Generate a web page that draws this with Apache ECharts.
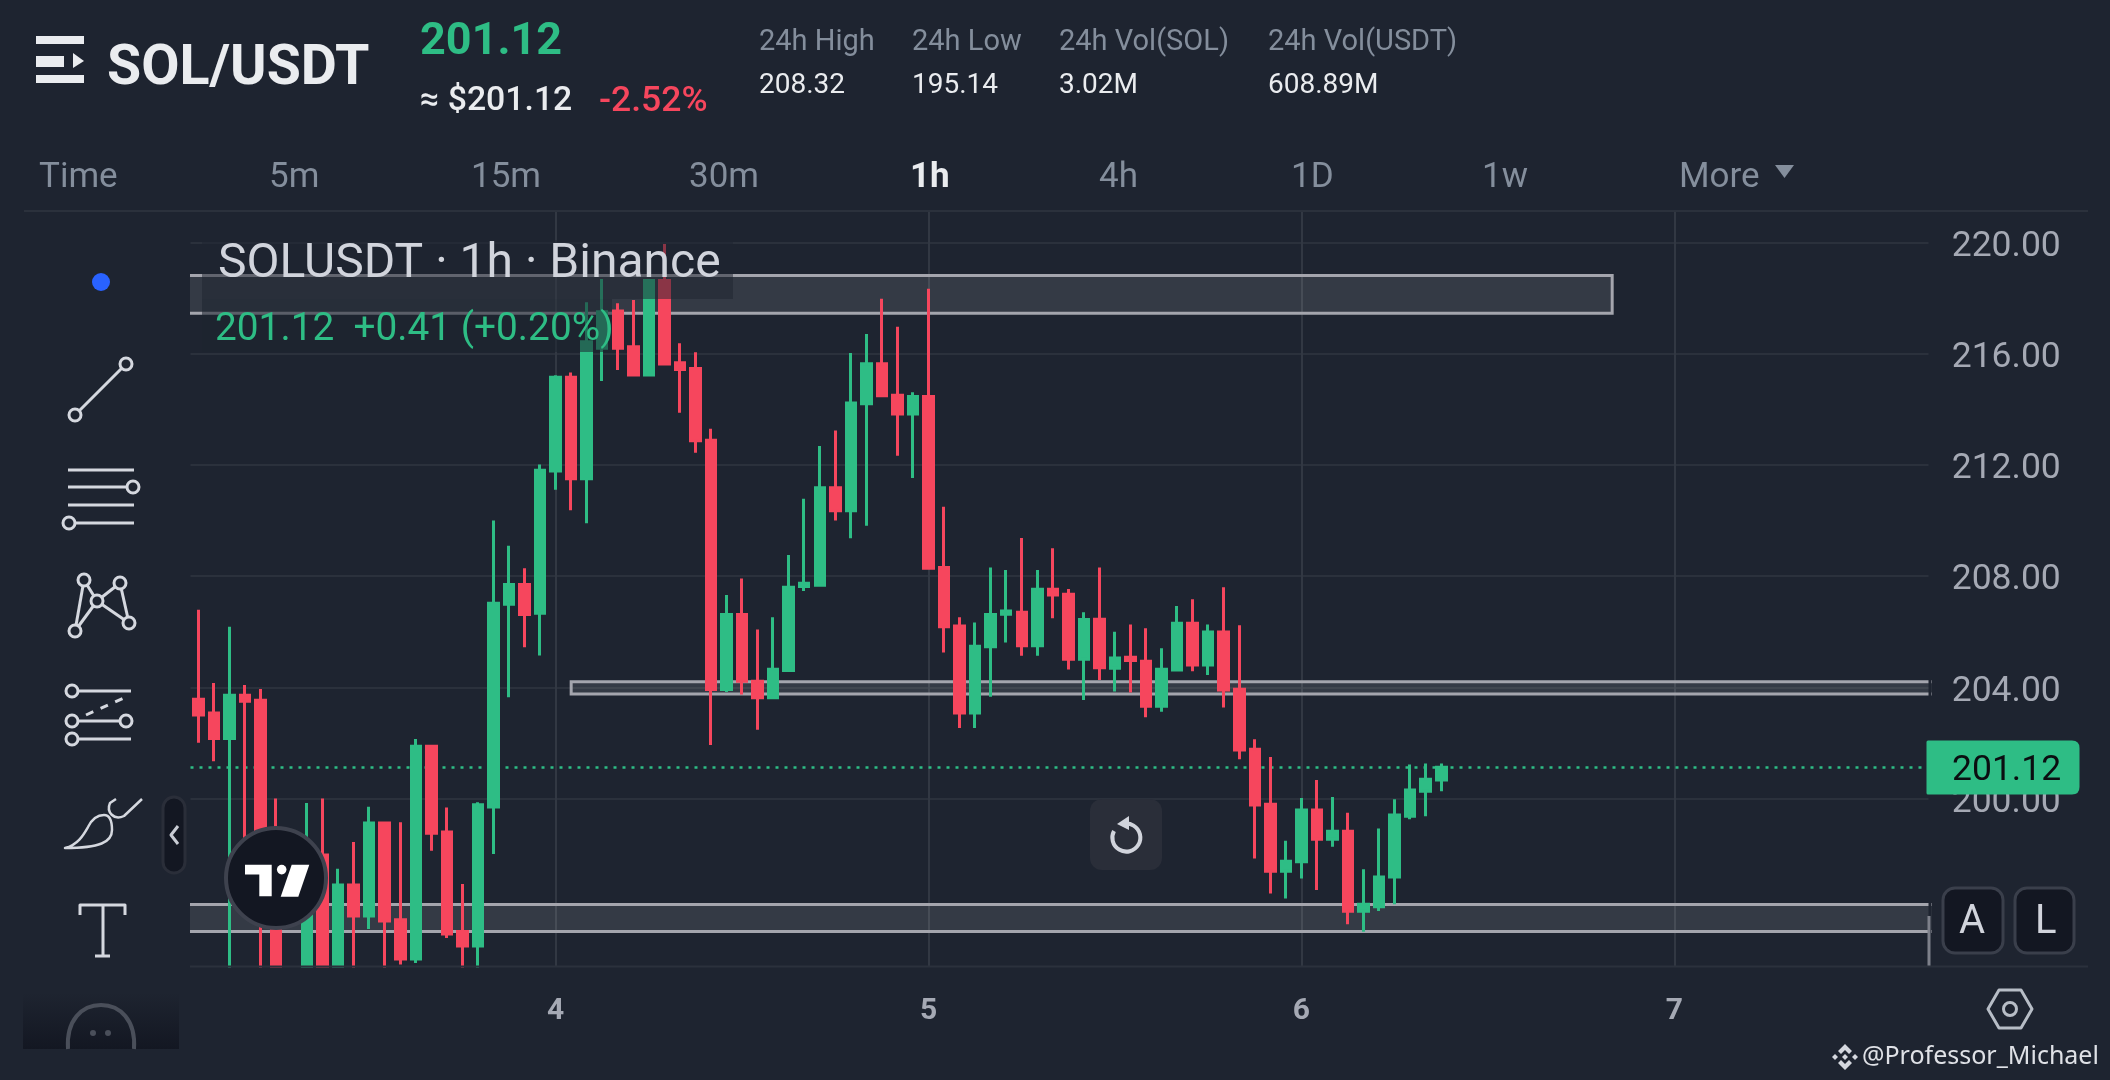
<!DOCTYPE html>
<html lang="en">
<head>
<meta charset="UTF-8">
<title>SOL/USDT 1h</title>
<script src="https://cdn.jsdelivr.net/npm/echarts@6/dist/echarts.min.js"></script>
<style>
  html, body { margin: 0; padding: 0; background: #1e2430; }
  #chart { width: 2110px; height: 1080px; }
</style>
</head>
<body>
<div id="chart"></div>
<script>
// candle values, index 0 is the first hour shown
var opens = [203.57,203.07,202.16,203.71,203.53,198.17,196.08,193.6,197.96,193.7,196.88,195.77,199.11,195.63,194.22,201.88,198.79,195.21,194.69,199.69,206.99,207.7,206.66,211.78,215.16,211.5,216.2,217.54,216.25,215.24,218.64,215.68,215.47,212.89,203.92,206.62,204.22,203.62,204.6,207.63,207.67,211.18,210.35,214.2,215.64,214.51,213.83,214.46,208.31,206.2,203.07,205.46,206.63,206.7,205.49,207.53,207.35,205.01,206.45,204.68,205.08,204.94,203.32,204.62,206.3,204.8,205.99,203.93,201.77,199.79,197.38,197.72,199.58,198.53,198.82,195.94,196.1,197.17,199.36,200.26,200.66];
var closes = [203.0,202.16,203.71,203.5,196.4,193.7,197.65,197.65,193.7,196.88,195.77,199.11,195.59,194.22,201.88,198.75,195.12,194.69,199.77,207.02,207.7,206.62,211.81,215.16,211.5,216.43,217.51,216.2,215.24,218.64,215.63,215.44,212.87,203.92,206.62,204.22,203.62,204.65,207.6,207.74,211.18,210.35,214.23,215.64,214.49,213.83,214.46,208.28,206.18,203.07,205.48,206.62,206.74,205.49,207.53,207.32,205.01,206.44,204.7,205.05,204.96,203.32,204.65,206.3,204.8,205.99,203.9,201.74,199.76,197.38,197.74,199.58,198.53,198.82,195.94,196.19,197.17,199.4,200.3,200.69,201.12];
var lows = [202.0,201.34,193.5,197,193.5,193.5,195.6,193.4,193.5,193.5,193.5,195.3,193.5,194.02,194.08,198.12,194.98,193.7,193.6,198.0,203.64,205.44,205.14,211.11,210.37,209.9,215.02,215.42,215.24,215.19,215.63,213.88,212.44,201.92,203.83,203.74,202.47,203.57,204.56,207.46,207.67,210.0,209.36,209.81,214.49,212.33,211.53,208.28,205.25,202.53,202.53,203.66,205.61,205.13,205.13,206.48,204.64,203.54,204.26,203.85,203.81,202.92,203.12,204.62,204.58,204.44,203.27,201.41,197.84,196.58,196.4,197.12,196.7,198.26,195.47,195.2,195.95,196.19,199.25,199.36,200.26];
var highs = [206.79,204.15,206.18,204.08,203.94,200.0,198.5,199.83,200.0,197.47,198.43,199.7,199.14,199.14,202.14,201.88,199.67,196.92,199.86,210.0,209.09,208.28,212.02,215.23,215.33,217.86,218.69,217.82,217.94,218.64,219.95,216.38,216.06,213.3,207.32,207.91,206.08,206.52,208.76,210.78,212.68,213.24,216.03,216.71,217.98,216.97,214.62,218.34,210.5,206.52,206.33,208.31,208.22,209.37,208.22,209.0,207.54,206.7,208.31,206.0,206.26,206.12,205.4,206.92,207.17,206.26,207.6,206.23,202.13,201.49,198.48,200.01,200.66,200.05,199.48,197.45,198.92,199.97,201.22,201.26,201.26];

var priceTicks = [200, 204, 208, 212, 216, 220];
var dayTickIndex = [23, 47, 71, 95];
var lastPrice = 201.12;

// drawn zones, x in candle slots (n + 0.5 is the middle of candle n)
var zoneStart = [-3, 24.5, -3];
var zoneEnd = [91.5, 118, 118];
var zoneTop = [218.82, 204.2, 196.18];
var zoneBottom = [217.46, 203.76, 195.21];

var slotCount = 112;
var categories = [];
for (var i = 0; i < slotCount; i++) {
  var hour = i + 1;
  categories.push((3 + Math.floor(hour / 24)) + ' ' + String(hour % 24).padStart(2, '0') + ':00');
}

var BG = '#1e2430', GREEN = '#2ebd85', RED = '#f6465d', GREY = '#848e9c', ICON = '#d5d8df', GRID = '#2b313c';

var candleData = opens.map(function (o, i) { return [o, closes[i], lows[i], highs[i]]; });
var zoneData = zoneStart.map(function (s, i) { return [s, zoneEnd[i], zoneTop[i], zoneBottom[i]]; });

var gridLines = priceTicks.map(function (v) { return { yAxis: v }; })
  .concat(dayTickIndex.map(function (i) { return { xAxis: categories[i], lineStyle: { color: '#323843', width: 2 } }; }));
gridLines.push({ yAxis: lastPrice, lineStyle: { color: GREEN, width: 2.5, type: [3, 6] } });

// overlay helpers
var overlay = [];
var pathCount = 0;
function text(x, y, s, size, color, weight, font) {
  overlay.push({ type: 'text', z: 103, x: x, y: y, style: {
    text: s, fill: color, fontSize: size, fontWeight: weight || 400,
    fontFamily: font || 'Roboto', verticalAlign: 'middle', align: 'left'
  } });
}
function rect(x, y, w, h, fill, r, stroke, lw, z) {
  overlay.push({ type: 'rect', z: z || 100, shape: { x: x, y: y, width: w, height: h, r: r || 0 },
    style: { fill: fill, stroke: stroke || null, lineWidth: lw || 0 } });
}
function seg(x1, y1, x2, y2, color, lw, dash, z) {
  overlay.push({ type: 'line', z: z || 100, shape: { x1: x1, y1: y1, x2: x2, y2: y2 },
    style: { stroke: color || ICON, lineWidth: lw || 3, lineDash: dash || null } });
}
function knob(x, y) {
  overlay.push({ type: 'circle', z: 101, shape: { cx: x, cy: y, r: 6 },
    style: { fill: BG, stroke: ICON, lineWidth: 3 } });
}
function poly(points, fill) {
  overlay.push({ type: 'polygon', z: 102, shape: { points: points }, style: { fill: fill } });
}
// the graphic component has no plain svg path type, so register each one as a shape
function path(d, stroke, lw, fill) {
  var name = 'iconPath' + (pathCount++);
  echarts.graphic.registerShape(name, echarts.graphic.extendPath(d, {}));
  overlay.push({ type: name, z: 101,
    style: { stroke: stroke || ICON, lineWidth: lw || 3, fill: fill || 'none', lineJoin: 'round' } });
}

// header
rect(36, 36, 48, 8, '#eaecef');
rect(36, 56, 28, 11, '#eaecef');
poly([[73, 53], [84, 61], [73, 68]], '#eaecef');
rect(36, 75, 48, 8, '#eaecef');
text(107, 70, 'SOL/USDT', 55.5, '#eaecef', 700);
text(420, 43, '201.12', 45, GREEN, 700);
text(420, 102, '≈ $201.12', 33.8, '#eaecef', 500);
text(599, 102, '-2.52%', 35.5, RED, 500);
text(759, 43, '24h High', 29, GREY);
text(759, 86, '208.32', 28, '#eaecef');
text(912, 43, '24h Low', 29, GREY);
text(912, 86, '195.14', 28, '#eaecef');
text(1059, 43, '24h Vol(SOL)', 29, GREY);
text(1059, 86, '3.02M', 28, '#eaecef');
text(1268, 43, '24h Vol(USDT)', 29, GREY);
text(1268, 86, '608.89M', 28, '#eaecef');

// interval tabs
text(39, 178, 'Time', 35, GREY);
text(269, 178, '5m', 35, GREY);
text(471, 178, '15m', 35, GREY);
text(689, 178, '30m', 35, GREY);
text(910, 178, '1h', 35, '#eaecef', 700);
text(1099, 178, '4h', 35, GREY);
text(1291, 178, '1D', 35, GREY);
text(1482, 178, '1w', 35, GREY);
text(1679, 178, 'More', 35, GREY);
poly([[1775, 165], [1794, 165], [1784.5, 178]], GREY);
seg(24, 211, 2088, 211, GRID, 2);

// left toolbar
overlay.push({ type: 'circle', z: 100, shape: { cx: 101, cy: 282, r: 9 }, style: { fill: '#2962ff' } });
seg(75, 415, 126, 364); knob(75, 415); knob(126, 364);
seg(68, 470, 134, 470); seg(68, 487, 134, 487); seg(68, 505, 134, 505); seg(68, 523, 134, 523);
knob(133, 487); knob(69, 523);
seg(75, 631, 84, 580); seg(84, 580, 97, 601); seg(75, 631, 97, 601);
seg(97, 601, 120, 583); seg(97, 601, 129, 623); seg(120, 583, 129, 623);
knob(75, 631); knob(84, 580); knob(97, 601); knob(120, 583); knob(129, 623);
seg(72, 691, 131, 691); seg(72, 721, 126, 721); seg(72, 739, 131, 739);
seg(86, 715, 126, 697, ICON, 3, [8, 8]);
knob(72, 691); knob(72, 721); knob(126, 721); knob(72, 739);
path('M65 848 C78 845 84 834 88 827 C93 817 100 815 104 815 C110 815 112 822 112 830 C112 842 100 848 65 848 Z', ICON, 2.5);
path('M116 799 L110 803 C106 812 114 821 124 816 L142 799', ICON, 2.5);
path('M80 915 L80 905 L125 905 L125 915 M103 905 L103 956 M95 956 L110 956');
overlay.push({ type: 'rect', z: 100, shape: { x: 23, y: 993, width: 156, height: 56 }, style: {
  fill: { type: 'linear', x: 0, y: 0, x2: 0, y2: 1, colorStops: [{ offset: 0, color: BG }, { offset: 1, color: '#131722' }] } } });
path('M68 1049 C66 1020 82 1005 101 1005 C120 1005 136 1020 134 1049', '#4a4f5a', 4);
overlay.push({ type: 'circle', z: 101, shape: { cx: 93, cy: 1033, r: 3 }, style: { fill: '#4a4f5a' } });
overlay.push({ type: 'circle', z: 101, shape: { cx: 108, cy: 1033, r: 3 }, style: { fill: '#4a4f5a' } });
rect(163, 797, 22, 76, '#131722', 11, '#2a2e39', 3);
path('M178 826 L171 835 L178 844', '#c8ccd4', 3);

// legend boxes over the candles
rect(202, 240, 531, 59, 'rgba(30,36,48,0.5)');
rect(202, 299, 410, 53, 'rgba(30,36,48,0.55)');
text(218, 265, 'SOLUSDT · 1h · Binance', 48, '#d1d4dc');
text(215, 330, '201.12  +0.41 (+0.20%)', 38.8, GREEN);

// logo badge
overlay.push({ type: 'circle', z: 100, shape: { cx: 276, cy: 878, r: 50 }, style: { fill: '#131722', stroke: '#3e424e', lineWidth: 4 } });
poly([[245, 864.7], [271.7, 864.7], [271.7, 896.2], [259.3, 896.2], [259.3, 874.4], [245, 874.4]], '#fff');
poly([[291.7, 864.7], [309.3, 864.7], [298.3, 896.7], [280.7, 896.7]], '#fff');
overlay.push({ type: 'circle', z: 102, shape: { cx: 281.7, cy: 869.6, r: 4.8 }, style: { fill: '#fff' } });

// reset button
rect(1090, 799, 72, 71, '#2a2e39', 12);
path('M1123 824 A14 14 0 1 1 1114 831', '#d1d4dc', 4);
poly([[1129, 816], [1129, 830], [1117, 824]], '#d1d4dc');

// candles are cut off at the axis, the strip below and the right edge are painted over
rect(190, 967.5, 1741, 24, BG, 0, null, 0, 5);
rect(1928.5, 211, 3, 755, BG, 0, null, 0, 5);
seg(1929, 916, 1929, 966, '#7d808a', 3);
seg(190, 966.5, 2088, 966.5, GRID, 2);
path('M1928 742 L2072 742 Q2078 742 2078 748 L2078 787 Q2078 793 2072 793 L1928 793 Z', GREEN, 0, GREEN);
text(1952, 771, '201.12', 35.5, '#0b0e11');
rect(1943, 888, 60, 65, '#131722', 12, '#3a3f4b', 3);
rect(2015, 888, 59, 65, '#131722', 12, '#3a3f4b', 3);
text(1959, 923, 'A', 40, '#d1d4dc');
text(2035, 923, 'L', 40, '#d1d4dc');
path('M1988 1009 L1999 990 L2021 990 L2032 1009 L2021 1028 L1999 1028 Z', '#b7bdc6', 3);
overlay.push({ type: 'circle', z: 101, shape: { cx: 2010, cy: 1009, r: 6.5 }, style: { stroke: '#b7bdc6', lineWidth: 3, fill: 'none' } });

// watermark
poly([[1845, 1044], [1852, 1051], [1849, 1054], [1845, 1050], [1841, 1054], [1838, 1051]], '#d5d8df');
poly([[1845, 1070], [1852, 1063], [1849, 1060], [1845, 1064], [1841, 1060], [1838, 1063]], '#d5d8df');
poly([[1845, 1054], [1848, 1057], [1845, 1060], [1842, 1057]], '#d5d8df');
poly([[1832, 1057], [1835, 1054], [1838, 1057], [1835, 1060]], '#d5d8df');
poly([[1852, 1057], [1855, 1054], [1858, 1057], [1855, 1060]], '#d5d8df');
text(1862, 1057, '@Professor_Michael', 25, '#dfe1e6', 400, 'Noto Sans');

var chart = echarts.init(document.getElementById('chart'));
chart.setOption({
  backgroundColor: BG,
  animation: false,
  grid: { left: 190.5, right: 2110 - 1930.7, top: 211, bottom: 113.5 },
  xAxis: [{
    type: 'category',
    data: categories,
    axisLine: { show: false },
    axisTick: { show: false },
    splitLine: { show: false },
    axisLabel: {
      interval: function (i) { return dayTickIndex.indexOf(i) >= 0; },
      formatter: function (v) { return v.split(' ')[0]; },
      color: '#a5a9b4', fontSize: 30, fontWeight: 700, fontFamily: 'Roboto', margin: 30
    }
  }, {
    type: 'value', min: 0, max: slotCount, show: false
  }],
  yAxis: {
    type: 'value',
    position: 'right',
    min: 193.95,
    max: 221.14,
    axisLine: { show: false },
    axisTick: { show: false },
    splitLine: { show: false },
    axisLabel: {
      customValues: priceTicks,
      formatter: function (v) { return '{tick|' + v.toFixed(2) + '}'; },
      margin: 21,
      align: 'left',
      rich: {
        tick: { color: '#a5a9b4', fontSize: 35.5, fontFamily: 'Roboto', padding: [9, 0, 0, 0] }
      }
    }
  },
  series: [{
    type: 'custom',
    name: 'zones',
    xAxisIndex: 1,
    yAxisIndex: 0,
    z: 1,
    clip: true,
    silent: true,
    data: zoneData,
    encode: { x: [0, 1], y: [2, 3] },
    renderItem: function (params, api) {
      var a = api.coord([api.value(0), api.value(2)]);
      var b = api.coord([api.value(1), api.value(3)]);
      return {
        type: 'rect',
        shape: { x: a[0], y: a[1], width: b[0] - a[0], height: b[1] - a[1] },
        style: { fill: 'rgba(255,255,255,0.1)', stroke: '#a4a5ad', lineWidth: 3 }
      };
    }
  }, {
    type: 'candlestick',
    name: 'SOLUSDT',
    z: 2,
    data: candleData,
    barWidth: 10,
    itemStyle: { color: GREEN, color0: RED, borderColor: GREEN, borderColor0: RED, borderWidth: 3 },
    markLine: {
      silent: true,
      z: 0,
      symbol: 'none',
      label: { show: false },
      animation: false,
      lineStyle: { color: GRID, width: 2, type: 'solid' },
      data: gridLines
    }
  }],
  graphic: { elements: overlay }
});
</script>
</body>
</html>
